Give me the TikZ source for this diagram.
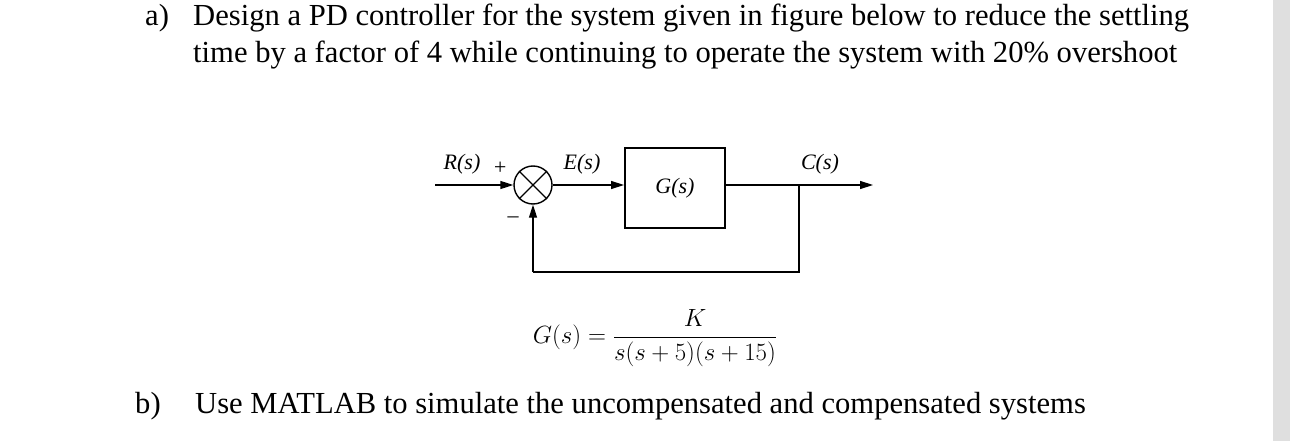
\documentclass[tikz,border=0pt]{standalone}
\usepackage{fontspec}
\setmainfont{Liberation Serif}
\usetikzlibrary{arrows.meta}
\begin{document}
\begin{tikzpicture}[x=1pt,y=-1pt,
  txt/.style={anchor=base west,inner sep=0pt,font=\fontsize{30.6}{34}\selectfont},
  lbl/.style={inner sep=0pt,font=\fontsize{22}{26}\selectfont\itshape},
  sig/.style={line width=1.4pt,-{Triangle[length=13pt,width=8pt]}},
  wire/.style={line width=1.4pt}]
\useasboundingbox (0,0) rectangle (1290,441);
\fill[gray!25] (1273,0) rectangle (1290,441);
\node[txt] (la) at (145,26) {a)};
\node[txt] (l1) at (193,26) {Design a PD controller for the system given in figure below to reduce the settling};
\node[txt] (l2) at (193,63) {time by a factor of 4 while continuing to operate the system with 20\% overshoot};
% block diagram
\coordinate (in) at (435,185);
\node[draw,circle,line width=1.4pt,minimum size=38pt,inner sep=0pt] (sum) at (533,185) {};
\draw[line width=1.4pt] (sum.north west)--(sum.south east) (sum.north east)--(sum.south west);
\node[draw,line width=2pt,minimum width=100pt,minimum height=80pt,lbl] (G) at (675,188) {G(s)};
\coordinate (br) at (799,185);
\coordinate (out) at (873,185);
\coordinate (fb) at (799,272);
\coordinate (fs) at (533,272);
\draw[sig] (in) -- (sum.west);
\draw[sig] (sum.east) -- (G.west |- sum.east);
\draw[wire] (G.east |- br) -- (br);
\draw[sig] (br) -- (out);
\draw[wire] (br) -- (fb) -- (fs);
\draw[sig] (fs) -- (sum.south);
\node[lbl] (R) at (462,164) {R(s)};
\node[lbl] (pl) at (500,168) {+};
\node[lbl] (E) at (582,164) {E(s)};
\node[lbl] (C) at (820,164) {C(s)};
\node[lbl] (mi) at (513,220) {\textup{--}};
% equation
\node[inner sep=0pt,font=\fontsize{33}{38}\selectfont] (eq) at (655,338) {$\displaystyle G(s)=\frac{K}{s(s+5)(s+15)}$};
\node[txt] (lb) at (135,413) {b)};
\node[txt] (l3) at (195,413) {Use MATLAB to simulate the uncompensated and compensated systems};
\end{tikzpicture}
\end{document}
